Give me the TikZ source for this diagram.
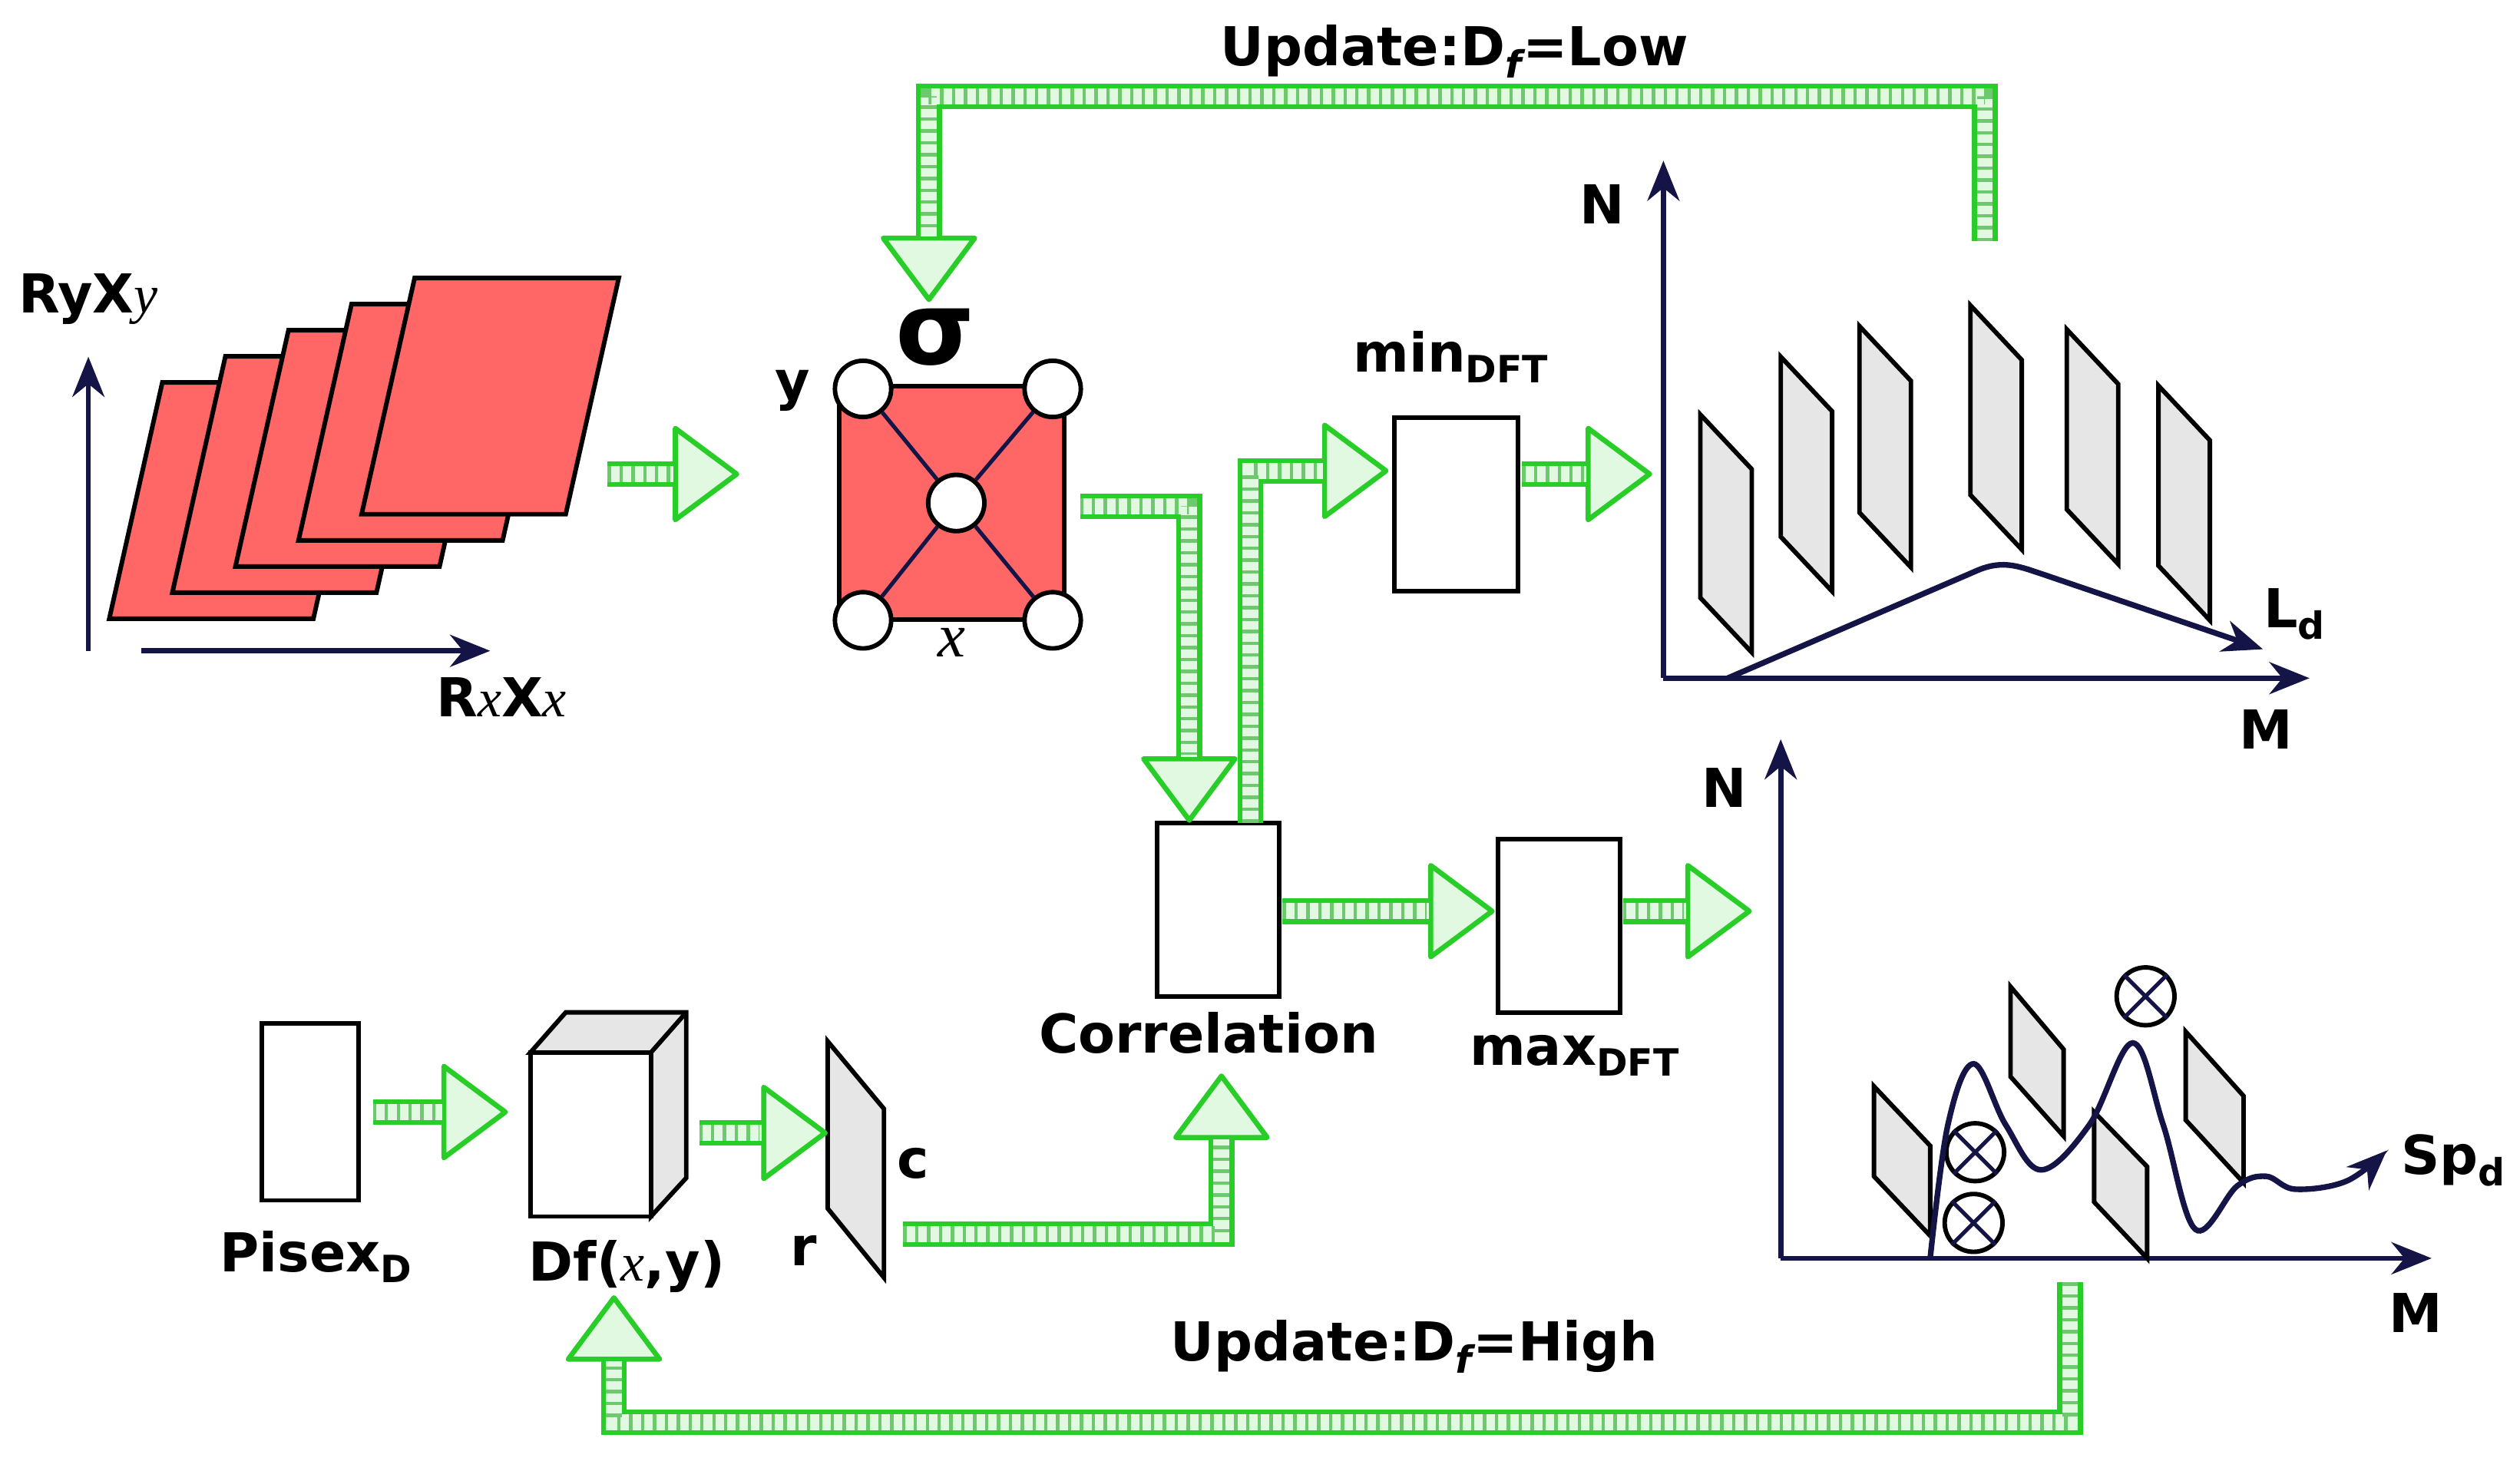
\documentclass[tikz,border=0pt]{standalone}
\usepackage{fontspec}
\setmainfont{DejaVu Sans}
\usetikzlibrary{arrows.meta,shapes.geometric}
\definecolor{gline}{RGB}{40,205,40}
\definecolor{gfill}{RGB}{225,248,225}
\definecolor{ghatch}{RGB}{110,200,110}
\definecolor{navy}{RGB}{20,20,70}
\definecolor{redf}{RGB}{255,102,102}
\definecolor{grayf}{RGB}{230,230,230}
\newcommand\garrow[1]{%
  \draw[line width=0.32cm,gline,line join=miter,-{Triangle[length=0.85cm,width=1.25cm,fill=gfill,line width=1.8pt,round]}] #1;
  \draw[line width=0.2cm,gfill,line join=miter,shorten >=0.82cm] #1;
  \draw[line width=0.2cm,ghatch,dash pattern=on 1.2pt off 3pt,shorten >=0.85cm] #1;}
\tikzset{
  lbl/.style={font=\bfseries\fontsize{19}{22}\selectfont,inner sep=0pt},
  box/.style={draw,line width=1.6pt,fill=white},
  sheet/.style={draw,line width=1.6pt,fill=redf},
  plane/.style={draw,line width=1.6pt,fill=grayf},
  ax/.style={line width=1.8pt,navy,-{Stealth[length=0.5cm,width=0.4cm]}},
  cn/.style={circle,draw,line width=1.6pt,fill=white,minimum size=0.7cm,inner sep=0pt},
  ox/.style={circle,draw,line width=1.6pt,minimum size=0.72cm,inner sep=0pt},
}
\begin{document}
\begin{tikzpicture}[x=0.02cm,y=-0.02cm]
\useasboundingbox (0,0) rectangle (1568,915);
% stack of sheets
\foreach \i in {0,...,4}{
  \pgfmathsetmacro\bx{68+39.25*\i}\pgfmathsetmacro\by{385-16.25*\i}
  \draw[sheet] (\bx,\by) -- ++(127,0) -- ++(33,-147) -- ++(-127,0) -- cycle;}
\draw[ax] (55,405) -- (55,222);
\draw[ax] (88,405) -- (305,405);
\node[lbl] (ryx) at (55,186) {RyX\textmd{\fontspec{Liberation Serif}\itshape y}};
\node[lbl] (rxx) at (312,434) {R\textmd{\fontspec{Liberation Serif}\itshape x}X\textmd{\fontspec{Liberation Serif}\itshape x}};
% red grid square
\node[draw,line width=1.6pt,fill=redf,minimum width=2.8cm,minimum height=2.9cm,inner sep=0pt] (sq) at (592,313) {};
\node[cn] (c0) at (595,313) {};
\foreach \p/\n in {{(537,242)}/a,{(655,242)}/b,{(537,386)}/c,{(655,386)}/d}{
  \node[cn] (\n) at \p {};}
\foreach \n in {a,b,c,d}{\draw[navy,line width=1.4pt] (\n) -- (c0);}
\node[font=\bfseries\fontsize{36}{36}\selectfont,inner sep=0pt] (sig) at (582,210) {σ};
\node[lbl] (ylab) at (493,243) {y};
\node[font=\fontspec{Liberation Serif}\itshape\fontsize{22}{22}\selectfont] (xlab) at (592,400) {x};
% boxes
\node[box,minimum width=1.54cm,minimum height=2.16cm] (min) at (906,314) {};
\node[lbl] (minl) at (903,222) {min\textsubscript{DFT}};
\node[box,minimum width=1.52cm,minimum height=2.16cm] (corr) at (758,566) {};
\node[lbl] (corrl) at (752,643) {Correlation};
\node[box,minimum width=1.52cm,minimum height=2.16cm] (max) at (970,576) {};
\node[lbl] (maxl) at (980,657) {max\textsubscript{DFT}};
\node[box,minimum width=1.2cm,minimum height=2.2cm] (pis) at (193,692) {};
\node[lbl] (pisl) at (197,782) {Pisex\textsubscript{D}};
% cube
\draw[plane] (330,655) -- (352,630) -- (427,630) -- (427,733) -- (405,757) -- (405,655) -- cycle;
\draw[line width=1.6pt] (405,655) -- (427,630);
\node[box,minimum width=1.5cm,minimum height=2.04cm] (cube) at (367.5,706) {};
\node[lbl] (cubel) at (390,788) {Df(\textmd{\fontspec{Liberation Serif}\itshape x},y)};
% vertical plane
\draw[plane] (515,648) -- (550,690) -- (550,795) -- (515,752) -- cycle;
\node[lbl] (cl) at (568,724) {c};
\node[lbl] (rl) at (500,778) {r};
% top chart
\draw[ax] (1035,422) -- (1035,100);
\draw[ax] (1035,422) -- (1437,422);
\node[lbl] (n1) at (997,127) {N};
\node[lbl] (m1) at (1410,454) {M};
\foreach \x/\t/\h in {1058/258/114,1108/222/112,1157/203/116,1226/190/118,1286/205/112,1343/240/112}{
  \draw[plane] (\x,\t) -- (\x+32,\t+34) -- (\x+32,\t+34+\h) -- (\x,\t+\h) -- cycle;}
\draw[navy,line width=2pt,-{Stealth[length=0.5cm,width=0.4cm]}] (1075,422) -- (1228,356) .. controls (1245,348) and (1255,352) .. (1270,357) -- (1408,404);
\node[lbl] (ld) at (1428,382) {L\textsubscript{d}};
% bottom chart
\draw[ax] (1108,783) -- (1108,460);
\draw[ax] (1108,783) -- (1513,783);
\node[lbl] (n2) at (1073,490) {N};
\node[lbl] (m2) at (1503,817) {M};
\draw[plane] (1166,676) -- (1201,713) -- (1201,769) -- (1166,732) -- cycle;
\draw[plane] (1251,614) -- (1284,653) -- (1284,707) -- (1251,670) -- cycle;
\draw[plane] (1303,692) -- (1336,726) -- (1336,783) -- (1303,748) -- cycle;
\draw[plane] (1360,642) -- (1396,682) -- (1396,736) -- (1360,697) -- cycle;
\foreach \p/\n in {{(1229,717)}/o1,{(1228,761)}/o2,{(1335,620)}/o3}{
  \node[ox] (\n) at \p {};
  \draw[navy,line width=1.4pt] (\n.north east) -- (\n.south west) (\n.north west) -- (\n.south east);}
\draw[navy,line width=2pt,-{Stealth[length=0.5cm,width=0.4cm]}] plot[smooth,tension=0.6] coordinates {(1201,783) (1212,700) (1228,662) (1248,700) (1270,728) (1300,700) (1327,649) (1346,700) (1366,765) (1392,738) (1410,732) (1428,740) (1460,735) (1485,716)};
\node[lbl] (spd) at (1527,722) {Sp\textsubscript{d}};
% green arrows
\node[lbl] (upl) at (905,32) {Update:D\textsubscript{\itshape f}=Low};
\node[lbl] (uph) at (880,838) {Update:D\textsubscript{\itshape f}=High};
\garrow{(1235,150) -- (1235,60) -- (578,60) -- (578,188)}
\garrow{(378,295) -- (460,295)}
\garrow{(672,315) -- (740,315) -- (740,512)}
\garrow{(778,512) -- (778,293) -- (864,293)}
\garrow{(947,295) -- (1028,295)}
\garrow{(798,567) -- (930,567)}
\garrow{(1010,567) -- (1090,567)}
\garrow{(232,692) -- (316,692)}
\garrow{(435,705) -- (515,705)}
\garrow{(562,768) -- (760,768) -- (760,668)}
\garrow{(1288,798) -- (1288,885) -- (382,885) -- (382,806)}
\end{tikzpicture}
\end{document}
